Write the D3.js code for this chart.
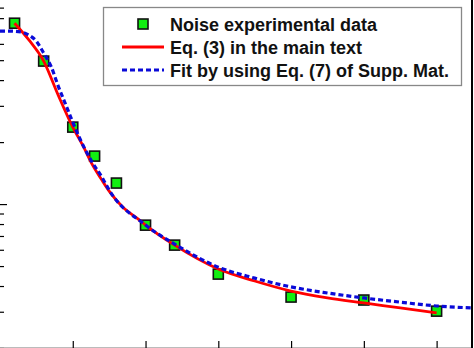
<!DOCTYPE html>
<html><head><meta charset="utf-8">
<script src="https://cdn.jsdelivr.net/npm/d3@7"></script>
<style>html,body{margin:0;padding:0;background:#fff;}svg{display:block;}</style>
</head><body><svg id="c" width="474" height="348"></svg>
<script>
// Experimental points
const dataX = [0.2, 0.6, 1, 1.3, 1.6, 2, 2.4, 3, 4, 5, 6];
const dataY = [7.56, 4.95, 2.365, 1.71, 1.265, 0.79, 0.632, 0.457, 0.3535, 0.342, 0.302];
// Eq. (3) curve
const redX = [0.2, 0.4, 0.6, 0.8, 1.0, 1.15, 1.25, 1.4, 1.5, 1.7, 1.9, 2.0, 2.4, 3, 3.5, 4, 4.5, 5, 5.5, 6];
const redY = [7.56, 6.25, 4.95, 3.38, 2.365, 1.891, 1.599, 1.308, 1.156, 0.956, 0.846, 0.791, 0.632, 0.484, 0.423, 0.378, 0.350, 0.331, 0.313, 0.296];
// Fit by Eq. (7)
const blueX = [0, 0.15, 0.3, 0.4, 0.5, 0.6, 0.7, 0.8, 0.9, 1.0, 1.1, 1.25, 1.4, 1.5, 2.0, 2.4, 3, 3.5, 4, 4.5, 5, 5.5, 6, 6.5];
const blueY = [6.92, 6.92, 6.84, 6.61, 6.18, 5.41, 4.68, 3.74, 3.06, 2.50, 2.07, 1.635, 1.352, 1.17, 0.791, 0.639, 0.494, 0.437, 0.396, 0.370, 0.350, 0.334, 0.320, 0.313];
const xTicks = [1, 2, 3, 4, 5, 6];
const legendLabels = ["Noise experimental data", "Eq. (3) in the main text", "Fit by using Eq. (7) of Supp. Mat."];

const svg = d3.select("#c");
const x = d3.scaleLinear().domain([0, 6.5]).range([0, 473]);
const y = d3.scaleLog().domain([0.2, 9.8]).range([348, 0]);

// bottom axis line
svg.append("line").attr("x1", 0).attr("x2", 472).attr("y1", 347.5).attr("y2", 347.5)
  .attr("stroke", "#bbb").attr("stroke-width", 1);
// right frame
svg.append("line").attr("x1", 472).attr("x2", 472).attr("y1", 0).attr("y2", 348)
  .attr("stroke", "#000").attr("stroke-width", 2);

// bottom ticks (inward)
const xa = svg.append("g").attr("transform", "translate(0,348)")
  .call(d3.axisTop(x).tickValues(xTicks).tickSize(7).tickFormat(""));
xa.select(".domain").remove();
xa.selectAll("line").attr("stroke", "#000").attr("stroke-width", 1.2);

// left ticks (inward), log minor ticks
const yTickVals = [0.2,0.3,0.4,0.5,0.6,0.7,0.8,0.9,1,2,3,4,5,6,7,8,9];
const ya = svg.append("g").attr("transform", "translate(0,0)")
  .call(d3.axisRight(y).tickValues(yTickVals).tickSize(4).tickFormat(""));
ya.select(".domain").remove();
ya.selectAll(".tick line").attr("stroke", "#000").attr("stroke-width", 1.2)
  .attr("x2", d => d === 1 ? 7 : 4);

// markers
svg.append("g").selectAll("rect").data(dataX.map((d, i) => [d, dataY[i]])).join("rect")
  .attr("x", d => x(d[0]) - 5).attr("y", d => y(d[1]) - 5)
  .attr("width", 10).attr("height", 10)
  .attr("fill", "#11ee11").attr("stroke", "#111").attr("stroke-width", 1.6);

const line = d3.line().x(d => x(d[0])).y(d => y(d[1])).curve(d3.curveMonotoneX);
svg.append("path").datum(redX.map((d, i) => [d, redY[i]])).attr("d", line)
  .attr("fill", "none").attr("stroke", "#ff0000").attr("stroke-width", 2.8);
svg.append("path").datum(blueX.map((d, i) => [d, blueY[i]])).attr("d", line)
  .attr("fill", "none").attr("stroke", "#0a0ad8").attr("stroke-width", 3.2)
  .attr("stroke-dasharray", "5,3");

// legend
const lg = svg.append("g");
lg.append("rect").attr("x", 103.5).attr("y", 7.5).attr("width", 358).attr("height", 78)
  .attr("fill", "#fff").attr("stroke", "#888").attr("stroke-width", 1.3);
const rowY = [24, 47, 70];
lg.append("rect").attr("x", 138).attr("y", rowY[0] - 5).attr("width", 10).attr("height", 10)
  .attr("fill", "#11ee11").attr("stroke", "#111").attr("stroke-width", 1.6);
lg.append("line").attr("x1", 122).attr("x2", 164).attr("y1", rowY[1]).attr("y2", rowY[1])
  .attr("stroke", "#ff0000").attr("stroke-width", 2.8);
lg.append("line").attr("x1", 122).attr("x2", 164).attr("y1", rowY[2]).attr("y2", rowY[2])
  .attr("stroke", "#0a0ad8").attr("stroke-width", 3.2).attr("stroke-dasharray", "5,3");
lg.selectAll("text").data(legendLabels).join("text")
  .attr("x", 170).attr("y", (d, i) => rowY[i] + 6.6)
  .attr("font-family", "'Liberation Sans', Arial, sans-serif")
  .attr("font-weight", "bold").attr("font-size", 18).attr("fill", "#111")
  .text(d => d);
</script></body></html>
